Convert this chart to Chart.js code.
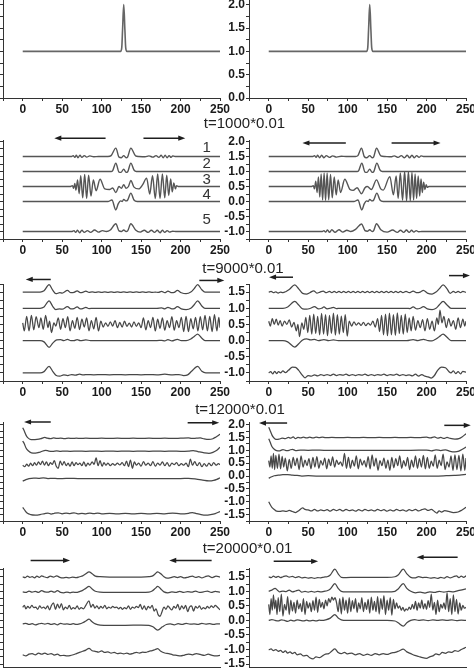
<!DOCTYPE html>
<html lang="en">
<head>
    <meta charset="UTF-8">
    <title>Pulse evolution</title>
    <script src="https://cdn.jsdelivr.net/npm/chart.js"></script>
    <style>
        body {
            margin: 0;
            background: #ffffff;
            font-family: "Liberation Sans", Arial, sans-serif;
        }
        #stage {
            position: relative;
            width: 474px;
            height: 668px;
            overflow: hidden;
            background: #ffffff;
        }
        #stage canvas {
            position: absolute;
        }
        .time-label {
            position: absolute;
            font-size: 15px;
            color: #222;
            white-space: nowrap;
            transform: translate(-50%, -50%);
        }
    </style>
</head>
<body>
<div id="stage"></div>

<script>
// ---- data (x, value) ----

// initial pulse, same in both columns
const t0Curve = [[0,1],[124,1],[125.5,1.08],[126.5,1.45],[128,2.0],[129.5,1.45],[130.5,1.08],[132,1],[250,1]];

// t=1000*0.01
const t1000LeftC1 = [[0,1.5],[62,1.5],[64,1.53],[66,1.47],[68,1.54],[70,1.46],[72.5,1.54],[75,1.47],[78,1.53],[81,1.48],[85,1.52],[90,1.49],[96,1.5],[108,1.5],[112,1.53],[118,1.78],[122,1.48],[125,1.46],[128,1.53],[131,1.46],[133,1.49],[137,1.78],[143,1.52],[147,1.5],[155,1.49],[160,1.52],[165,1.48],[169,1.53],[172.5,1.47],[175.5,1.54],[178,1.46],[180.5,1.54],[183,1.46],[185.5,1.53],[188,1.47],[190,1.52],[193,1.5],[250,1.5]];
const t1000LeftC3 = [[0,0.5],[60,0.5],[63,0.53],[64.5,0.44],[66,0.6],[67.5,0.38],[69.5,0.72],[71.5,0.26],[73.5,0.86],[76,0.12],[78.5,0.9],[81,0.1],[83.5,0.88],[86.5,0.18],[89.5,0.72],[93,0.36],[98,0.74],[104,0.42],[110,0.4],[114,0.45],[118,0.3],[122,0.5],[125,0.44],[128,0.56],[131,0.44],[134,0.5],[137,0.7],[141,0.48],[147,0.42],[152,0.56],[157,0.78],[161,0.25],[164.5,0.86],[168,0.1],[171,0.92],[174,0.1],[177,0.92],[180,0.12],[182.5,0.88],[185,0.2],[187.5,0.75],[189.5,0.32],[191.5,0.62],[193.5,0.42],[195,0.53],[197,0.5],[250,0.5]];
const t1000LeftC5 = [[0,-1],[62,-1],[65,-0.97],[67,-1.03],[69.5,-0.96],[72,-1.04],[75,-0.96],[78,-1.03],[82,-0.97],[86,-1.03],[91,-0.95],[96,-1.02],[101,-0.97],[106,-1.0],[111,-0.95],[118,-0.74],[122,-0.98],[125,-1.0],[128,-0.95],[131,-1.0],[133,-0.98],[137,-0.74],[143,-0.95],[149,-1.02],[154,-0.96],[159,-1.03],[163,-0.96],[167,-1.03],[170.5,-0.96],[174,-1.04],[177,-0.96],[180,-1.03],[183,-0.97],[186,-1.02],[190,-0.99],[194,-1.0],[250,-1]];
const t1000RightC1 = [[0,1.5],[56,1.5],[58,1.53],[60,1.47],[62,1.54],[64.5,1.46],[67,1.54],[70,1.46],[73,1.53],[77,1.47],[81,1.52],[86,1.48],[92,1.51],[98,1.5],[110,1.5],[113,1.53],[117.6,1.78],[121,1.5],[124,1.46],[128,1.53],[131,1.46],[133,1.49],[136.6,1.78],[142,1.52],[147,1.5],[155,1.49],[159,1.52],[164,1.47],[168,1.53],[172,1.46],[175.5,1.54],[178.5,1.46],[181.5,1.54],[184.5,1.46],[187.5,1.53],[190.5,1.47],[193,1.52],[196,1.5],[250,1.5]];
const t1000C2 = [[0,1],[112,1],[114,1.03],[118,1.28],[122,0.98],[124.5,0.97],[128,1.08],[131,0.97],[133,0.99],[137,1.28],[141,1.05],[144,1.0],[250,1]];
const t1000RightC3 = [[0,0.5],[54,0.5],[56.5,0.53],[58,0.42],[59.6,0.68],[61.3,0.3],[63,0.82],[64.7,0.15],[66.4,0.92],[68.3,0.05],[70.2,0.95],[72,0.03],[74,0.95],[76,0.06],[78.3,0.9],[80.5,0.12],[83,0.82],[85.5,0.22],[88,0.72],[91,0.3],[96.4,0.74],[103,0.4],[107,0.37],[112,0.46],[117.6,0.26],[122,0.46],[125,0.5],[130,0.4],[136.6,0.72],[142,0.42],[145,0.38],[153.5,0.83],[158,0.22],[161.5,0.85],[164,0.1],[166.8,0.95],[169.6,0.04],[172.2,1.0],[174.7,0.02],[177,1.0],[179.4,0.02],[181.5,0.98],[183.6,0.05],[185.5,0.92],[187.4,0.1],[189.4,0.85],[191.3,0.18],[193,0.75],[194.6,0.3],[196.3,0.64],[198,0.4],[199.5,0.56],[201,0.47],[203,0.5],[250,0.5]];
const t1000C4 = [[0,0],[108,0],[113,0.05],[118,-0.28],[121,-0.08],[124,0.02],[126,0.0],[128,0.07],[131,0.02],[133,0.05],[137,0.28],[141,0.05],[145,0],[250,0]];
const t1000RightC5 = [[0,-1],[68,-1],[70,-0.97],[72,-1.02],[74.5,-0.95],[77,-1.03],[80,-0.94],[84,-1.03],[89,-0.94],[94,-1.02],[99,-0.96],[104,-1.0],[110,-0.93],[117.6,-0.75],[122,-0.97],[125,-0.99],[128,-0.94],[131,-1.0],[133,-0.97],[136.6,-0.74],[142,-0.94],[150,-1.02],[157,-0.95],[163,-1.03],[167,-0.96],[171,-1.03],[174.5,-0.95],[178,-1.03],[181,-0.96],[184,-1.02],[187,-0.97],[190,-1.01],[194,-1.0],[250,-1]];
const curveNumbers = ['1', '2', '3', '4', '5'];
const curveNumberY = [1.8, 1.25, 0.72, 0.22, -0.62];

// t=9000*0.01
const t9000LeftC1 = [[0,1.5],[22,1.5],[27,1.54],[33.4,1.73],[38,1.56],[42,1.45],[47,1.48],[50,1.47],[56.7,1.55],[61,1.48],[65,1.49],[69,1.54],[73,1.48],[76,1.49],[80,1.53],[84,1.49],[88,1.51],[92,1.49],[96,1.51],[100,1.49],[104,1.51],[108,1.49],[112,1.51],[116,1.49],[120,1.51],[124,1.49],[128,1.51],[132,1.49],[136,1.51],[140,1.49],[144,1.51],[148,1.49],[152,1.51],[156,1.49],[160,1.51],[164,1.49],[168,1.5],[172,1.49],[176,1.52],[180,1.48],[184,1.53],[189,1.48],[192,1.49],[196,1.55],[201,1.48],[207,1.45],[213,1.5],[217,1.6],[221.7,1.73],[227,1.57],[231,1.5],[250,1.5]];
const t9000LeftC2 = [[0,1],[22,1],[27,1.04],[33.4,1.23],[38,1.06],[42,0.96],[47,0.98],[50,0.97],[56.7,1.05],[61,0.98],[65,0.99],[69,1.04],[73,0.98],[76,0.99],[80,1.03],[84,0.99],[90,1.0],[170,1.0],[176,1.01],[180,0.98],[184,1.03],[189,0.98],[192,0.99],[196,1.05],[201,0.98],[207,0.96],[213,1.0],[217,1.1],[221.7,1.23],[227,1.07],[231,1.0],[250,1]];
const t9000LeftC3 = [[0,0.55],[2,0.3],[5,0.75],[8,0.3],[11,0.78],[14,0.33],[17,0.74],[20.5,0.4],[23,0.7],[26,0.35],[29,0.78],[32,0.4],[34,0.6],[36.5,0.25],[39.5,0.55],[42,0.45],[45,0.7],[48,0.35],[51,0.68],[54,0.4],[57,0.74],[60,0.3],[63,0.62],[66,0.38],[69,0.72],[72,0.34],[75,0.66],[78,0.42],[81,0.7],[84,0.3],[87,0.62],[90,0.36],[93,0.72],[96,0.3],[99,0.6],[102,0.42],[105,0.55],[108,0.44],[111,0.58],[114,0.45],[117,0.62],[120,0.4],[123,0.56],[126,0.42],[129,0.6],[132,0.44],[135,0.54],[138,0.42],[141,0.58],[144,0.44],[147,0.55],[150,0.4],[153,0.7],[156,0.33],[159,0.62],[162,0.4],[165,0.72],[168,0.3],[171,0.66],[174,0.38],[177,0.7],[180,0.32],[183,0.62],[186,0.4],[189,0.74],[192,0.32],[195,0.62],[198,0.4],[201,0.72],[204,0.28],[207,0.75],[210,0.28],[213,0.68],[216,0.36],[219,0.72],[222,0.3],[225,0.74],[228,0.33],[231,0.78],[234,0.3],[237,0.75],[240,0.28],[243,0.8],[246,0.3],[248.5,0.72],[250,0.4]];
const t9000LeftC4 = [[0,0],[22,0],[27,-0.04],[33.4,-0.21],[38,-0.08],[43,0.02],[48,0.03],[52,0.0],[56.7,0.04],[61,0.0],[65,0.0],[69,0.03],[73,0.0],[80,0.02],[86,0.0],[170,0.0],[176,0.01],[180,-0.01],[184,0.03],[189,-0.01],[196,0.04],[201,0.0],[207,0.0],[213,0.05],[217,0.12],[221.7,0.2],[227,0.07],[231,0.0],[250,0]];
const t9000LeftC5 = [[0,-1],[22,-1],[27,-0.96],[33.4,-0.8],[38,-0.95],[42,-1.07],[47,-1.1],[52,-1.06],[57,-1.08],[62,-1.05],[67,-1.07],[72,-1.04],[77,-1.06],[82,-1.05],[90,-1.06],[100,-1.05],[110,-1.06],[120,-1.05],[130,-1.06],[140,-1.05],[150,-1.06],[160,-1.05],[170,-1.06],[180,-1.04],[190,-1.06],[198,-1.05],[204,-1.08],[209,-1.06],[214,-0.95],[221.7,-0.8],[227,-0.95],[232,-1.0],[250,-1.0]];
const t9000RightC1 = [[0,1.5],[3,1.52],[6,1.48],[9,1.51],[12,1.47],[15,1.5],[18,1.48],[22,1.52],[26,1.58],[33,1.72],[38,1.6],[43,1.46],[48,1.44],[52,1.48],[57,1.54],[61,1.47],[65,1.5],[69,1.53],[73,1.48],[77,1.52],[80,1.48],[83,1.52],[86,1.48],[89,1.52],[92,1.48],[95,1.52],[98,1.48],[101,1.52],[104,1.48],[107,1.52],[110,1.48],[113,1.52],[116,1.48],[119,1.52],[122,1.48],[125,1.52],[128,1.48],[131,1.52],[134,1.48],[137,1.52],[140,1.48],[143,1.52],[146,1.48],[149,1.52],[152,1.48],[155,1.52],[158,1.48],[161,1.52],[164,1.48],[167,1.52],[170,1.48],[174,1.52],[178,1.48],[183,1.53],[188,1.48],[192,1.5],[196,1.55],[201,1.47],[207,1.44],[212,1.5],[216,1.6],[221,1.72],[226,1.6],[230,1.46],[234,1.52],[237,1.48],[240,1.52],[243,1.48],[246,1.52],[250,1.49]];
const t9000RightC2 = [[0,1],[18,1],[24,1.04],[33,1.21],[38,1.1],[43,0.98],[48,0.97],[53,1.0],[58,1.05],[63,0.98],[67,1.0],[70,1.04],[74,0.98],[78,1.0],[82,1.03],[86,0.99],[90,1.0],[175,1.0],[179,0.99],[183,1.04],[188,0.98],[192,1.0],[196,1.05],[201,0.98],[207,0.96],[212,1.0],[216,1.1],[221,1.21],[226,1.1],[231,1.0],[250,1]];
const t9000RightC3 = [[0,0.6],[2,0.45],[4.5,0.68],[7,0.5],[9.5,0.66],[12,0.48],[14.5,0.62],[17,0.45],[20,0.6],[23,0.5],[26,0.64],[29,0.42],[32,0.56],[35,0.3],[37,0.5],[39,0.12],[42,0.55],[44.5,0.35],[47,0.72],[49.5,0.25],[52,0.78],[54.5,0.2],[57,0.82],[59.5,0.22],[62,0.75],[64.5,0.18],[67,0.84],[69.5,0.2],[72,0.8],[74.5,0.15],[77,0.78],[79.5,0.22],[82,0.85],[84.5,0.17],[87,0.8],[89.5,0.2],[92,0.76],[94.5,0.25],[97,0.8],[99.5,0.14],[102,0.6],[105,0.45],[108,0.58],[111,0.48],[114,0.55],[117,0.47],[120,0.56],[123,0.46],[126,0.54],[129,0.48],[132,0.6],[135,0.42],[138,0.68],[140.5,0.28],[143,0.78],[145.5,0.18],[148,0.82],[150.5,0.15],[153,0.85],[155.5,0.18],[158,0.8],[160.5,0.16],[163,0.86],[165.5,0.22],[168,0.78],[170.5,0.2],[173,0.82],[175.5,0.25],[178,0.7],[180.5,0.3],[183,0.75],[186,0.32],[189,0.62],[192,0.4],[195,0.65],[198,0.3],[201,0.68],[204,0.35],[207,0.6],[210,0.3],[213,0.7],[215,0.5],[217,0.94],[219.5,0.55],[222,0.75],[225,0.4],[228,0.68],[231,0.45],[234,0.62],[237,0.35],[240,0.7],[243,0.4],[246,0.66],[248.5,0.45],[250,0.6]];
const t9000RightC4 = [[0,0],[18,0],[24,-0.04],[33,-0.2],[38,-0.1],[43,0.02],[48,0.05],[53,0.02],[58,0.04],[63,0.0],[70,0.03],[76,0.0],[82,0.02],[88,0.0],[175,0.0],[183,0.03],[189,0.0],[196,0.04],[202,0.0],[207,-0.01],[212,0.05],[216,0.12],[221,0.2],[226,0.1],[231,0.0],[250,0]];
const t9000RightC5 = [[0,-1.0],[2.5,-0.96],[5,-1.03],[7.5,-0.95],[10,-1.02],[12.5,-0.96],[15,-1.0],[18,-0.94],[21,-0.99],[25,-0.92],[30,-0.82],[34,-0.83],[38,-0.92],[42,-1.05],[46,-1.15],[50,-1.08],[54,-1.1],[58,-1.06],[62,-1.09],[66,-1.05],[70,-1.08],[74,-1.05],[78,-1.08],[82,-1.04],[86,-1.08],[90,-1.05],[94,-1.07],[98,-1.04],[102,-1.08],[106,-1.05],[110,-1.08],[114,-1.05],[118,-1.07],[122,-1.04],[126,-1.08],[130,-1.05],[134,-1.08],[138,-1.05],[142,-1.07],[146,-1.04],[150,-1.08],[154,-1.05],[158,-1.07],[162,-1.04],[166,-1.08],[170,-1.05],[174,-1.08],[178,-1.06],[182,-1.09],[186,-1.04],[190,-1.1],[194,-1.05],[198,-1.1],[202,-1.12],[206,-1.16],[210,-1.08],[214,-0.92],[219,-0.82],[224,-0.84],[228,-0.95],[231,-1.0],[234,-0.94],[237,-1.02],[240,-0.96],[243,-1.03],[246,-0.95],[250,-0.98]];

// t=12000*0.01
const t12000LeftC1 = [[0,1.88],[2,1.75],[4,1.6],[6,1.5],[9,1.43],[13,1.41],[18,1.42],[23,1.45],[28,1.5],[31,1.47],[35,1.45],[39,1.48],[43,1.46],[48,1.47],[53,1.45],[58,1.47],[63,1.46],[68,1.47],[73,1.46],[80,1.47],[90,1.46],[100,1.47],[110,1.46],[120,1.47],[130,1.46],[140,1.47],[150,1.46],[160,1.47],[170,1.46],[180,1.47],[190,1.46],[200,1.47],[210,1.48],[214,1.46],[220,1.47],[225,1.48],[230,1.44],[236,1.42],[241,1.45],[245,1.52],[250,1.62]];
const t12000LeftC2 = [[0,1.36],[2,1.25],[4,1.1],[7,0.98],[11,0.9],[16,0.89],[22,0.93],[29,1.0],[33,0.97],[38,0.96],[43,0.98],[48,0.96],[53,0.97],[60,0.96],[70,0.97],[80,0.96],[90,0.97],[100,0.96],[110,0.97],[120,0.96],[130,0.97],[140,0.96],[150,0.97],[160,0.96],[170,0.97],[180,0.96],[190,0.97],[200,0.96],[210,0.97],[216,0.99],[222,0.95],[230,0.9],[236,0.88],[241,0.92],[246,1.0],[250,1.12]];
const t12000LeftC3 = [[0,0.42],[2.5,0.36],[5,0.46],[7.5,0.38],[10,0.5],[12.5,0.4],[15,0.52],[17.5,0.42],[20,0.55],[22.5,0.44],[25,0.58],[27.5,0.42],[30,0.55],[32.5,0.4],[35,0.52],[37.5,0.45],[40,0.6],[42.5,0.38],[45,0.3],[47.5,0.58],[50,0.42],[52.5,0.56],[55,0.4],[57.5,0.5],[60,0.38],[62.5,0.55],[65,0.4],[67.5,0.52],[70,0.44],[72.5,0.5],[75,0.4],[77.5,0.55],[80,0.38],[82.5,0.5],[85,0.42],[88,0.55],[90.5,0.45],[93,0.7],[95.5,0.4],[98,0.6],[100.5,0.38],[103,0.52],[105.5,0.42],[108,0.5],[111,0.4],[114,0.48],[117,0.42],[120,0.5],[123,0.43],[126,0.52],[129,0.4],[131.5,0.58],[134,0.36],[136.5,0.62],[139,0.3],[141.5,0.55],[144,0.42],[147,0.5],[150,0.38],[153,0.56],[156,0.42],[159,0.5],[162,0.4],[165,0.56],[168,0.38],[171,0.5],[174,0.42],[177,0.55],[180,0.4],[183,0.52],[186,0.38],[189,0.5],[192,0.44],[195,0.52],[198,0.4],[201,0.48],[204,0.42],[207,0.5],[210,0.36],[212.5,0.66],[215,0.42],[218,0.56],[221,0.4],[224,0.52],[227,0.36],[230,0.48],[233,0.38],[236,0.5],[239,0.4],[242,0.52],[245,0.42],[248,0.48],[250,0.44]];
const t12000LeftC4 = [[0,-0.2],[4,-0.14],[8,-0.1],[14,-0.08],[20,-0.09],[26,-0.07],[32,-0.1],[38,-0.09],[44,-0.1],[50,-0.1],[60,-0.09],[70,-0.1],[80,-0.1],[100,-0.1],[120,-0.1],[140,-0.1],[160,-0.1],[180,-0.1],[200,-0.1],[210,-0.09],[220,-0.12],[228,-0.16],[236,-0.19],[242,-0.17],[246,-0.13],[250,-0.07]];
const t12000LeftC5 = [[0,-1.22],[3,-1.35],[6,-1.45],[10,-1.5],[16,-1.52],[22,-1.5],[28,-1.46],[32,-1.44],[36,-1.48],[40,-1.45],[45,-1.43],[50,-1.47],[55,-1.44],[60,-1.46],[65,-1.43],[70,-1.47],[75,-1.45],[80,-1.47],[85,-1.44],[90,-1.46],[95,-1.44],[100,-1.47],[110,-1.45],[120,-1.47],[130,-1.45],[140,-1.47],[150,-1.45],[160,-1.47],[170,-1.45],[180,-1.47],[190,-1.44],[200,-1.47],[210,-1.45],[215,-1.42],[220,-1.46],[226,-1.5],[232,-1.52],[238,-1.5],[244,-1.46],[250,-1.38]];
const t12000RightC1 = [[0,1.9],[2,1.75],[4,1.6],[6,1.5],[8,1.44],[10,1.42],[13,1.43],[17,1.47],[21,1.45],[25,1.5],[28,1.47],[31,1.52],[34,1.45],[37,1.5],[40,1.48],[44,1.51],[48,1.48],[52,1.51],[56,1.48],[60,1.51],[64,1.49],[68,1.51],[72,1.49],[80,1.5],[90,1.49],[100,1.5],[110,1.49],[120,1.5],[130,1.49],[140,1.5],[150,1.49],[160,1.5],[170,1.49],[180,1.5],[190,1.49],[200,1.51],[205,1.48],[210,1.52],[214,1.47],[218,1.5],[222,1.46],[226,1.5],[230,1.46],[236,1.43],[241,1.45],[245,1.52],[250,1.64]];
const t12000RightC2 = [[0,1.45],[2,1.3],[4,1.15],[7,1.04],[10,0.99],[14,0.98],[18,1.03],[22,0.99],[26,1.0],[30,1.04],[34,0.99],[40,1.01],[50,1.0],[60,1.01],[70,1.0],[80,1.0],[100,1.0],[120,1.0],[140,1.0],[160,1.0],[180,1.0],[200,1.01],[206,0.98],[212,1.02],[218,0.99],[224,1.02],[230,0.96],[236,0.94],[241,0.97],[246,1.05],[250,1.13]];
const t12000RightC3 = [[0,0.6],[1.5,0.35],[3,0.78],[4.5,0.3],[6,0.88],[7.5,0.25],[9,0.8],[11,0.3],[13,0.85],[15,0.28],[17,0.76],[19,0.35],[21,0.7],[23.5,0.2],[26,0.65],[28.5,0.3],[31,0.72],[33.5,0.4],[36,0.7],[38.5,0.25],[41,0.78],[43.5,0.35],[46,0.62],[48.5,0.4],[51,0.68],[53.5,0.28],[56,0.72],[58.5,0.35],[61,0.75],[63.5,0.3],[66,0.6],[68.5,0.42],[71,0.7],[73.5,0.28],[76,0.66],[78.5,0.4],[81,0.74],[83.5,0.35],[86,0.62],[88.5,0.45],[91,0.55],[93.5,0.38],[96,0.88],[98.5,0.3],[101,0.72],[103.5,0.3],[106,0.62],[108.5,0.38],[111,0.78],[113.5,0.28],[116,0.66],[118.5,0.42],[121,0.6],[123.5,0.35],[126,0.75],[128.5,0.28],[131,0.82],[133.5,0.38],[136,0.7],[138.5,0.22],[141,0.6],[143.5,0.4],[146,0.7],[148.5,0.3],[151,0.62],[153.5,0.22],[156,0.72],[158.5,0.32],[161,0.68],[163.5,0.4],[166,0.78],[168.5,0.3],[171,0.6],[173.5,0.38],[176,0.72],[178.5,0.25],[181,0.62],[183.5,0.35],[186,0.78],[188.5,0.3],[191,0.68],[193.5,0.35],[196,0.8],[198.5,0.28],[201,0.72],[203.5,0.3],[206,0.58],[208.5,0.38],[211,0.82],[213.5,0.3],[216,0.62],[218.5,0.4],[221,0.85],[223.5,0.25],[226,0.55],[228.5,0.35],[231,0.78],[233.5,0.22],[236,0.82],[238.5,0.25],[241,0.8],[243.5,0.2],[246,0.85],[248.5,0.22],[250,0.7]];
const t12000RightC4 = [[0,-0.09],[3,-0.04],[7,0.01],[12,0.03],[18,0.05],[24,0.05],[30,0.03],[36,0.02],[42,0.0],[50,0.01],[60,0.0],[80,0.0],[100,0.0],[120,0.0],[140,0.0],[160,0.0],[180,0.0],[200,0.0],[215,0.0],[225,0.01],[235,0.02],[242,0.03],[250,0.06]];
const t12000RightC5 = [[0,-1.0],[2,-1.12],[4,-1.22],[7,-1.3],[10,-1.37],[14,-1.38],[18,-1.36],[22,-1.38],[26,-1.34],[30,-1.38],[34,-1.42],[38,-1.35],[43,-1.24],[46,-1.3],[50,-1.32],[54,-1.36],[58,-1.3],[62,-1.36],[66,-1.32],[70,-1.35],[74,-1.31],[78,-1.37],[82,-1.3],[86,-1.35],[90,-1.3],[94,-1.36],[98,-1.3],[102,-1.35],[106,-1.32],[110,-1.37],[114,-1.31],[118,-1.36],[122,-1.3],[126,-1.35],[130,-1.32],[134,-1.36],[138,-1.3],[142,-1.35],[146,-1.31],[150,-1.37],[154,-1.32],[158,-1.36],[162,-1.3],[166,-1.35],[170,-1.32],[174,-1.37],[178,-1.31],[182,-1.35],[186,-1.3],[190,-1.36],[194,-1.31],[198,-1.28],[202,-1.34],[206,-1.3],[210,-1.38],[213,-1.44],[216,-1.36],[219,-1.4],[223,-1.35],[228,-1.38],[234,-1.42],[240,-1.4],[245,-1.32],[250,-1.22]];

// t=20000*0.01
const t20000LeftC1 = [[0,1.5],[3,1.47],[6,1.52],[9,1.48],[12,1.5],[15,1.46],[18,1.52],[21,1.48],[24,1.53],[27,1.5],[31,1.47],[35,1.52],[39,1.49],[43,1.53],[47,1.48],[51,1.46],[55,1.48],[59,1.46],[63,1.49],[68,1.47],[72,1.5],[76,1.53],[80,1.6],[84,1.67],[88,1.6],[92,1.52],[98,1.5],[110,1.49],[130,1.49],[150,1.49],[160,1.5],[164,1.52],[168,1.6],[171,1.67],[175,1.6],[179,1.5],[183,1.45],[188,1.47],[192,1.5],[196,1.47],[200,1.5],[205,1.46],[210,1.49],[215,1.52],[219,1.48],[223,1.5],[227,1.46],[231,1.5],[235,1.53],[240,1.47],[245,1.52],[250,1.49]];
const t20000LeftC2 = [[0,0.98],[4,0.96],[8,1.01],[12,0.97],[16,1.0],[20,0.96],[24,1.02],[28,0.98],[32,0.97],[36,1.01],[40,0.97],[44,1.02],[48,0.96],[52,0.95],[56,0.97],[60,0.95],[64,0.97],[68,0.96],[72,0.99],[76,1.03],[80,1.1],[84,1.17],[88,1.08],[92,1.0],[98,0.97],[120,0.96],[150,0.96],[160,0.97],[164,1.01],[168,1.1],[171,1.17],[175,1.08],[179,0.98],[184,0.95],[189,0.98],[194,0.96],[199,1.0],[204,0.96],[209,0.99],[214,0.97],[219,1.01],[224,0.96],[229,0.98],[234,1.01],[239,0.96],[244,1.0],[250,0.97]];
const t20000LeftC3 = [[0,0.45],[2,0.52],[4,0.4],[6.5,0.48],[9,0.42],[11.5,0.52],[14,0.44],[16.5,0.46],[19,0.38],[21.5,0.5],[24,0.42],[26.5,0.46],[29,0.4],[31.5,0.5],[34,0.36],[36.5,0.52],[39,0.6],[41.5,0.38],[44,0.56],[46.5,0.42],[49,0.58],[51.5,0.36],[54,0.46],[56.5,0.4],[59,0.52],[61.5,0.38],[64,0.44],[66.5,0.4],[69,0.5],[71.5,0.38],[74,0.44],[77,0.4],[80,0.52],[84,0.67],[86.5,0.45],[89,0.55],[91.5,0.42],[94,0.5],[96.5,0.4],[99,0.48],[101.5,0.42],[104,0.52],[106.5,0.4],[109,0.46],[111.5,0.42],[114,0.48],[116.5,0.44],[119,0.46],[121.5,0.4],[124,0.45],[126.5,0.38],[129,0.44],[131.5,0.4],[134,0.5],[136.5,0.38],[139,0.46],[141.5,0.42],[144,0.48],[146.5,0.44],[149,0.55],[151.5,0.38],[154,0.5],[156.5,0.36],[159,0.48],[161.5,0.42],[164,0.52],[166.5,0.32],[169,0.4],[171.5,0.2],[174,0.14],[176.5,0.3],[179,0.46],[181.5,0.38],[184,0.5],[186.5,0.42],[189,0.36],[191.5,0.48],[194,0.42],[196.5,0.55],[199,0.36],[201.5,0.5],[204,0.4],[206.5,0.52],[209,0.3],[211.5,0.46],[214,0.5],[216.5,0.32],[219,0.48],[221.5,0.42],[224,0.5],[226.5,0.38],[229,0.44],[231.5,0.4],[234,0.48],[236.5,0.42],[239,0.5],[241.5,0.44],[244,0.52],[246.5,0.46],[250,0.36]];
const t20000LeftC4 = [[0,-0.12],[4,-0.1],[8,-0.14],[12,-0.11],[16,-0.15],[20,-0.12],[24,-0.1],[28,-0.13],[32,-0.1],[36,-0.14],[40,-0.11],[44,-0.15],[48,-0.1],[52,-0.13],[56,-0.12],[60,-0.14],[64,-0.11],[68,-0.14],[72,-0.12],[76,-0.08],[80,-0.02],[84,0.04],[88,-0.05],[92,-0.12],[98,-0.16],[110,-0.17],[130,-0.17],[150,-0.16],[160,-0.17],[165,-0.22],[171,-0.33],[177,-0.22],[182,-0.14],[187,-0.12],[192,-0.15],[197,-0.11],[202,-0.14],[207,-0.1],[212,-0.13],[217,-0.12],[222,-0.14],[227,-0.1],[232,-0.13],[237,-0.11],[242,-0.14],[246,-0.12],[250,-0.12]];
const t20000LeftC5 = [[0,-1.18],[4,-1.22],[8,-1.16],[12,-1.14],[16,-1.18],[20,-1.12],[24,-1.16],[28,-1.12],[32,-1.17],[36,-1.14],[40,-1.19],[44,-1.16],[48,-1.21],[52,-1.2],[56,-1.22],[60,-1.21],[64,-1.18],[68,-1.14],[72,-1.1],[76,-1.06],[80,-1.02],[84,-0.96],[88,-1.04],[92,-1.06],[96,-1.09],[100,-1.05],[104,-1.1],[108,-1.08],[112,-1.12],[116,-1.1],[120,-1.14],[124,-1.12],[128,-1.15],[132,-1.12],[136,-1.16],[140,-1.13],[144,-1.1],[148,-1.12],[152,-1.09],[156,-1.1],[160,-1.06],[164,-1.04],[168,-1.0],[171,-0.97],[175,-1.06],[180,-1.12],[185,-1.14],[190,-1.18],[195,-1.2],[200,-1.22],[205,-1.19],[210,-1.16],[215,-1.18],[220,-1.14],[225,-1.17],[230,-1.2],[235,-1.16],[240,-1.2],[245,-1.22],[250,-1.2]];
const t20000RightC1 = [[0,1.5],[3,1.47],[6,1.52],[9,1.48],[12,1.51],[15,1.47],[18,1.5],[22,1.53],[26,1.49],[30,1.51],[34,1.47],[38,1.5],[42,1.46],[46,1.48],[50,1.45],[54,1.47],[58,1.44],[62,1.47],[66,1.46],[70,1.49],[74,1.5],[78,1.56],[83.8,1.76],[88,1.6],[92,1.48],[98,1.47],[110,1.48],[130,1.48],[150,1.48],[160,1.5],[164,1.56],[170.5,1.76],[175,1.6],[180,1.48],[185,1.46],[190,1.5],[195,1.47],[200,1.48],[205,1.45],[210,1.47],[214,1.44],[218,1.48],[222,1.45],[226,1.5],[230,1.46],[234,1.5],[238,1.53],[241,1.47],[244,1.52],[247,1.48],[250,1.53]];
const t20000RightC2 = [[0,1.0],[4,1.04],[8,1.1],[11,1.04],[14,0.98],[18,1.01],[22,0.99],[26,1.04],[30,0.98],[34,1.01],[38,1.04],[42,0.97],[46,1.0],[50,0.97],[54,1.0],[58,0.97],[62,1.0],[66,0.98],[70,1.0],[74,1.02],[78,1.08],[83.8,1.26],[88,1.1],[92,1.0],[98,0.98],[120,0.98],[150,0.98],[160,1.0],[164,1.08],[170.5,1.26],[175,1.1],[180,1.0],[186,0.95],[192,0.97],[198,0.94],[204,0.98],[210,0.96],[216,1.0],[222,0.97],[228,1.0],[234,0.98],[240,1.02],[245,1.05],[250,1.08]];
const t20000RightC3 = [[0,0.55],[1.5,0.2],[3,0.75],[4.5,0.35],[6,0.88],[7.5,0.4],[9,0.7],[10.5,0.2],[12,0.78],[14,0.3],[16,0.9],[18,0.15],[20,0.55],[22,0.35],[24,0.82],[26,0.2],[28,0.7],[30,0.32],[32,0.62],[34,0.25],[36,0.7],[38,0.4],[40,0.58],[42,0.3],[44,0.75],[46,0.2],[48,0.65],[50,0.42],[52,0.6],[54,0.3],[56,0.68],[58,0.35],[60,0.8],[62,0.28],[64,0.72],[66,0.45],[68,0.62],[70,0.4],[72,0.7],[74,0.5],[76,0.75],[78,0.62],[80,0.8],[82,0.7],[84,0.78],[86,0.6],[88,0.3],[90,0.75],[92,0.22],[94,0.8],[96,0.35],[98,0.7],[100,0.25],[102,0.78],[104,0.3],[106,0.68],[108,0.4],[110,0.75],[112,0.28],[114,0.6],[116,0.4],[118,0.78],[120,0.3],[122,0.62],[124,0.38],[126,0.72],[128,0.25],[130,0.8],[132,0.35],[134,0.65],[136,0.3],[138,0.82],[140,0.22],[142,0.75],[144,0.38],[146,0.85],[148,0.2],[150,0.7],[152,0.35],[154,0.78],[156,0.18],[158,0.72],[160,0.4],[162,0.6],[164,0.42],[166,0.5],[168,0.35],[170,0.45],[172,0.32],[174,0.4],[176,0.35],[178,0.46],[180,0.38],[182,0.55],[184,0.4],[186,0.65],[188,0.35],[190,0.6],[192,0.42],[194,0.7],[196,0.4],[198,0.58],[200,0.38],[202,0.68],[204,0.45],[206,0.9],[208,0.35],[210,0.62],[212,0.2],[214,0.7],[216,0.3],[218,0.55],[220,0.42],[222,0.6],[224,0.38],[226,0.95],[228,0.3],[230,0.75],[232,0.2],[234,0.88],[236,0.3],[238,0.72],[240,0.22],[242,0.6],[244,0.35],[246,0.52],[248,0.42],[250,0.45]];
const t20000RightC4 = [[0,0.0],[4,0.03],[8,0.0],[12,-0.02],[16,0.02],[20,0.0],[24,-0.03],[28,0.01],[32,-0.02],[36,0.02],[40,0.0],[44,-0.02],[48,0.01],[52,-0.02],[56,0.0],[60,-0.02],[64,0.01],[68,0.0],[72,0.02],[78,0.08],[83.8,0.2],[88,0.08],[92,0.02],[98,0.0],[120,0.0],[150,0.0],[160,-0.02],[164,-0.08],[170.5,-0.2],[175,-0.08],[180,0.0],[185,0.03],[190,0.0],[196,0.02],[202,-0.01],[208,0.02],[214,0.0],[220,0.02],[226,0.0],[232,0.02],[238,-0.01],[244,0.01],[250,0.0]];
const t20000RightC5 = [[0,-1.01],[3,-0.98],[6,-1.04],[9,-1.0],[12,-1.06],[15,-1.03],[18,-1.1],[21,-1.05],[24,-1.12],[27,-1.08],[30,-1.14],[33,-1.1],[36,-1.18],[40,-1.15],[44,-1.22],[48,-1.2],[52,-1.28],[56,-1.32],[60,-1.25],[64,-1.28],[68,-1.22],[72,-1.16],[76,-1.14],[80,-1.05],[83.8,-0.98],[88,-1.1],[92,-1.14],[96,-1.1],[100,-1.15],[105,-1.12],[110,-1.18],[115,-1.14],[120,-1.2],[125,-1.16],[130,-1.2],[135,-1.14],[140,-1.18],[145,-1.14],[150,-1.17],[155,-1.12],[160,-1.1],[165,-1.05],[170.5,-0.99],[175,-1.08],[180,-1.14],[185,-1.2],[190,-1.24],[195,-1.28],[200,-1.3],[204,-1.25],[208,-1.22],[212,-1.15],[216,-1.18],[220,-1.1],[224,-1.13],[228,-1.08],[232,-1.1],[236,-1.04],[240,-1.06],[244,-1.0],[248,-0.95],[250,-0.92]];

// arrows: [tail x, head x, y]
const t1000LeftArrows = [[105, 40, 2.11], [153, 206, 2.11]];
const t1000RightArrows = [[97.7, 42.7, 1.95], [155.7, 217.8, 1.95]];
const t9000LeftArrows = [[35.5, 3.8, 1.89], [223.8, 255.5, 1.86]];
const t9000RightArrows = [[30.8, 0.4, 1.96], [228.5, 255, 2.01]];
const t12000LeftArrows = [[35.5, 1.7, 2.1], [209, 249, 2.07]];
const t12000RightArrows = [[23.3, -12.3, 2.06], [222.5, 256, 1.97]];
const t20000LeftArrows = [[10, 60, 2.06], [239.4, 185.7, 2.06]];
const t20000RightArrows = [[6.3, 62.6, 2.03], [239.4, 187.4, 2.17]];

const timeLabels = ['t=1000*0.01', 't=9000*0.01', 't=12000*0.01', 't=20000*0.01'];

// ---- layout ----
const Y_AXIS_W = 34, X_AXIS_H = 22, TOP_PAD = 20, RIGHT_PAD = 14;
const COL_LEFT = [2.5, 249];
const PLOT_W = 217;
const FONT = '"Liberation Sans", Arial, sans-serif';

const stage = document.getElementById('stage');

function makePanel(col, top, bottom, yMin, yMax, curves, opts) {
    const plotH = bottom - top;
    const canvas = document.createElement('canvas');
    canvas.width = Y_AXIS_W + PLOT_W + RIGHT_PAD;
    canvas.height = TOP_PAD + plotH + X_AXIS_H;
    canvas.style.left = (COL_LEFT[col] - Y_AXIS_W) + 'px';
    canvas.style.top = (top - TOP_PAD) + 'px';
    stage.appendChild(canvas);

    const lineColor = opts.lineColor || '#474747';
    const lineWidth = opts.lineWidth || 1.25;
    const arrows = opts.arrows || [];
    const numbers = opts.numbers || [];

    // arrows and curve numbers, placed through the chart scales
    const decor = {
        id: 'decor',
        afterDatasetsDraw(chart) {
            const { ctx, scales: { x, y } } = chart;
            ctx.save();
            ctx.strokeStyle = '#1e1e1e';
            ctx.fillStyle = '#1e1e1e';
            ctx.lineWidth = 1.5;
            arrows.forEach(([x0, x1, yv]) => {
                const a = x.getPixelForValue(x0);
                const b = x.getPixelForValue(x1);
                const py = y.getPixelForValue(yv);
                const dir = Math.sign(b - a);
                ctx.beginPath();
                ctx.moveTo(a, py);
                ctx.lineTo(b - dir * 5, py);
                ctx.stroke();
                ctx.beginPath();
                ctx.moveTo(b, py);
                ctx.lineTo(b - dir * 7, py - 2.6);
                ctx.lineTo(b - dir * 7, py + 2.6);
                ctx.closePath();
                ctx.fill();
            });
            ctx.fillStyle = '#333';
            ctx.font = '15px ' + FONT;
            ctx.textAlign = 'center';
            ctx.textBaseline = 'middle';
            numbers.forEach(([txt, xv, yv]) => {
                ctx.fillText(txt, x.getPixelForValue(xv), y.getPixelForValue(yv));
            });
            ctx.restore();
        }
    };

    new Chart(canvas, {
        type: 'line',
        data: {
            datasets: curves.map(c => ({
                data: c,
                borderColor: lineColor,
                borderWidth: lineWidth,
                pointRadius: 0,
                fill: false,
                cubicInterpolationMode: 'monotone'
            }))
        },
        options: {
            responsive: false,
            animation: false,
            events: [],
            layout: { padding: { top: TOP_PAD, right: RIGHT_PAD, left: 0, bottom: 0 } },
            plugins: { legend: { display: false }, tooltip: { enabled: false } },
            scales: {
                x: {
                    type: 'linear',
                    min: -25,
                    max: 250,
                    afterFit: s => { s.height = X_AXIS_H; },
                    border: { color: '#333', width: 1 },
                    grid: { drawOnChartArea: false, tickLength: 3, tickColor: '#333' },
                    ticks: {
                        stepSize: 25,
                        includeBounds: false,
                        maxRotation: 0,
                        autoSkip: false,
                        padding: 1,
                        color: '#1a1a1a',
                        font: { family: FONT, size: 12, weight: 'bold' },
                        callback: v => (v % 50 === 0 ? String(v) : '')
                    }
                },
                y: {
                    type: 'linear',
                    min: yMin,
                    max: yMax,
                    afterFit: s => { s.width = Y_AXIS_W; },
                    border: { color: '#333', width: 1 },
                    grid: { drawOnChartArea: false, tickLength: 3, tickColor: '#333' },
                    ticks: {
                        stepSize: 0.25,
                        includeBounds: false,
                        autoSkip: false,
                        padding: 1,
                        color: '#1a1a1a',
                        font: { family: FONT, size: 12, weight: 'bold' },
                        callback: v => {
                            const q = Math.round(v * 4);
                            return q % 2 === 0 ? (q / 4).toFixed(1) : '';
                        }
                    }
                }
            }
        },
        plugins: [decor]
    });
}

function addTimeLabel(text, cx, cy) {
    const d = document.createElement('div');
    d.className = 'time-label';
    d.textContent = text;
    d.style.left = cx + 'px';
    d.style.top = cy + 'px';
    stage.appendChild(d);
}

const numberMarks = curveNumbers.map((n, i) => [n, 233, curveNumberY[i]]);

// row 1: initial pulse
makePanel(0, 0, 98, 0, 2.1, [t0Curve], { lineColor: '#666', lineWidth: 1.6 });
makePanel(1, 0, 98, 0, 2.1, [t0Curve], { lineColor: '#666', lineWidth: 1.6 });

// row 2
makePanel(0, 140.3, 239.3, -1.25, 2.05,
    [t1000LeftC1, t1000C2, t1000LeftC3, t1000C4, t1000LeftC5],
    { lineColor: '#555', lineWidth: 1.4, arrows: t1000LeftArrows, numbers: numberMarks });
makePanel(1, 140.3, 239.3, -1.25, 2.05,
    [t1000RightC1, t1000C2, t1000RightC3, t1000C4, t1000RightC5],
    { lineColor: '#555', lineWidth: 1.4, arrows: t1000RightArrows });

// row 3
makePanel(0, 283.7, 381.5, -1.25, 1.75,
    [t9000LeftC1, t9000LeftC2, t9000LeftC3, t9000LeftC4, t9000LeftC5],
    { arrows: t9000LeftArrows });
makePanel(1, 283.7, 381.5, -1.25, 1.75,
    [t9000RightC1, t9000RightC2, t9000RightC3, t9000RightC4, t9000RightC5],
    { arrows: t9000RightArrows });

// row 4
makePanel(0, 422.3, 522, -1.75, 2.1,
    [t12000LeftC1, t12000LeftC2, t12000LeftC3, t12000LeftC4, t12000LeftC5],
    { arrows: t12000LeftArrows });
makePanel(1, 422.3, 522, -1.75, 2.1,
    [t12000RightC1, t12000RightC2, t12000RightC3, t12000RightC4, t12000RightC5],
    { arrows: t12000RightArrows });

// row 5
makePanel(0, 567.9, 667.8, -1.6, 1.8,
    [t20000LeftC1, t20000LeftC2, t20000LeftC3, t20000LeftC4, t20000LeftC5],
    { arrows: t20000LeftArrows });
makePanel(1, 567.9, 667.8, -1.6, 1.8,
    [t20000RightC1, t20000RightC2, t20000RightC3, t20000RightC4, t20000RightC5],
    { arrows: t20000RightArrows });

addTimeLabel(timeLabels[0], 244.5, 121.7);
addTimeLabel(timeLabels[1], 243, 267.3);
addTimeLabel(timeLabels[2], 240, 407.7);
addTimeLabel(timeLabels[3], 247.5, 547);
</script>
</body>
</html>
